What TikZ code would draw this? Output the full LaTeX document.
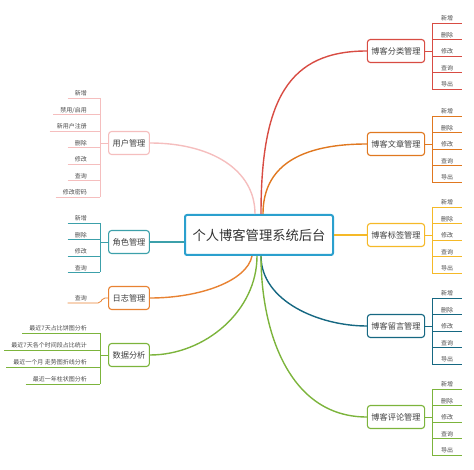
\documentclass[tikz,border=0pt]{standalone}
\usepackage{fontspec}
\newfontfamily\cjk{Noto Sans CJK SC}
\usetikzlibrary{positioning}
\definecolor{rootblue}{RGB}{43,160,206}
\definecolor{catred}{RGB}{216,76,67}
\definecolor{artorange}{RGB}{224,120,32}
\definecolor{tagyellow}{RGB}{245,185,40}
\definecolor{msgteal}{RGB}{22,104,130}
\definecolor{cmtgreen}{RGB}{124,180,60}
\definecolor{userpink}{RGB}{245,190,190}
\definecolor{roleteal}{RGB}{60,160,170}
\definecolor{logorange}{RGB}{232,130,50}
\tikzset{root/.style={
    draw=rootblue, line width=2pt, rounded corners=2pt, fill=white,
    minimum width=148pt, minimum height=40pt,
    font=\cjk\fontsize{13.3}{15}\selectfont, text=black!80
  },
  topic/.style={
    draw=#1, line width=1.1pt, rounded corners=3pt, fill=white,
    inner xsep=4pt, minimum height=23pt,
    font=\cjk\fontsize{8.2}{10}\selectfont, text=black!75
  },
  leaf/.style={
    font=\cjk\fontsize{6}{7}\selectfont, text=black!70,
    inner xsep=7pt, inner ysep=1pt, text height=4.8pt, text depth=1pt
  },
  branch/.style={draw=#1, line width=1.4pt},
  twig/.style={draw=#1, line width=.8pt}
}
\begin{document}
\begin{tikzpicture}[x=1pt,y=-1pt]
    \useasboundingbox (0,0) rectangle (474,470);

    \node[root] (root) at (259,235) {个人博客管理系统后台};

    % right side
    \node[topic=catred] (cat) at (396,51) {博客分类管理};
    \node[topic=artorange] (art) at (396,144) {博客文章管理};
    \node[topic=tagyellow] (tag) at (396,235) {博客标签管理};
    \node[topic=msgteal] (msg) at (396,326) {博客留言管理};
    \node[topic=cmtgreen] (cmt) at (396,417) {博客评论管理};

    \draw[branch=catred] ([xshift=2pt]root.north) .. controls +(0,-115) and +(-78,0) .. (cat.west);
    \draw[branch=artorange] ([xshift=4pt]root.north) .. controls +(0,-40) and +(-78,0) .. (art.west);
    \draw[branch=tagyellow] (root.east) -- (tag.west);
    \draw[branch=msgteal] ([xshift=2pt]root.south) .. controls +(0,45) and +(-48,0) .. (msg.west);
    \draw[branch=cmtgreen] ([xshift=2pt]root.south) .. controls +(0,75) and +(-78,0) .. (cmt.west);

    \foreach \br/\c/\col in {cat/51/catred, art/144/artorange, tag/235/tagyellow, msg/326/msgteal, cmt/417/cmtgreen} {
      \foreach \w [count=\i from 0] in {新增,删除,修改,查询,导出} {
        \node[leaf, anchor=south west, minimum width=30pt] (\br\i) at (432,\c-28+16.5*\i) {\w};
        \draw[twig=\col] (\br\i.south west) -- (\br\i.south east);
      }
      \draw[twig=\col] (\br0.south west) -- (\br4.south west);
      \draw[twig=\col] (\br.east) -- (\br.east -| \br0.south west);
    }

    % left side
    \node[topic=userpink] (user) at (129,143) {用户管理};
    \node[topic=roleteal] (role) at (129,242) {角色管理};
    \node[topic=logorange] (log) at (129,298) {日志管理};
    \node[topic=cmtgreen] (data) at (129,355) {数据分析};

    \draw[branch=userpink] ([xshift=-4pt]root.north) .. controls +(0,-45) and +(60,0) .. (user.east);
    \draw[branch=roleteal] (root.west |- role.east) -- (role.east);
    \draw[branch=logorange] ([xshift=-7pt]root.south) .. controls +(-5,25) and +(50,0) .. (log.east);
    \draw[branch=cmtgreen] ([xshift=-2pt]root.south) .. controls +(0,55) and +(55,0) .. (data.east);

    \coordinate (ubr) at (100,143);
    \foreach \w [count=\i from 0] in {新增,{禁用/启用},新用户注册,删除,修改,查询,修改密码} {
      \node[leaf, anchor=south east] (u\i) at (94,98+16.5*\i) {\w};
      \draw[twig=userpink] (u\i.south west) -- (u\i.south west -| ubr);
    }
    \draw[twig=userpink] (u0.south west -| ubr) -- (u6.south west -| ubr);
    \draw[twig=userpink] (user.west) -- (ubr);

    \coordinate (rbr) at (100,242);
    \foreach \w [count=\i from 0] in {新增,删除,修改,查询} {
      \node[leaf, anchor=south east] (r\i) at (94,223+16.5*\i) {\w};
      \draw[twig=roleteal] (r\i.south west) -- (r\i.south west -| rbr);
    }
    \draw[twig=roleteal] (r0.south west -| rbr) -- (r3.south west -| rbr);
    \draw[twig=roleteal] (role.west) -- (rbr);

    \coordinate (lbr) at (100,303);
    \node[leaf, anchor=south east] (l0) at (94,303) {查询};
    \draw[twig=logorange, rounded corners=2pt] (log.west) -- (103,298) -- (lbr) -- (l0.south west);

    \coordinate (dbr) at (100,355);
    \foreach \w [count=\i from 0] in {最近7天占比饼图分析,最近7天各个时间段占比统计,最近一个月 走势图折线分析,最近一年柱状图分析} {
      \node[leaf, anchor=south east] (d\i) at (94,333+17*\i) {\w};
      \draw[twig=cmtgreen] (d\i.south west) -- (d\i.south west -| dbr);
    }
    \draw[twig=cmtgreen] (d0.south west -| dbr) -- (d3.south west -| dbr);
    \draw[twig=cmtgreen] (data.west) -- (dbr);
  \end{tikzpicture}
\end{document}
